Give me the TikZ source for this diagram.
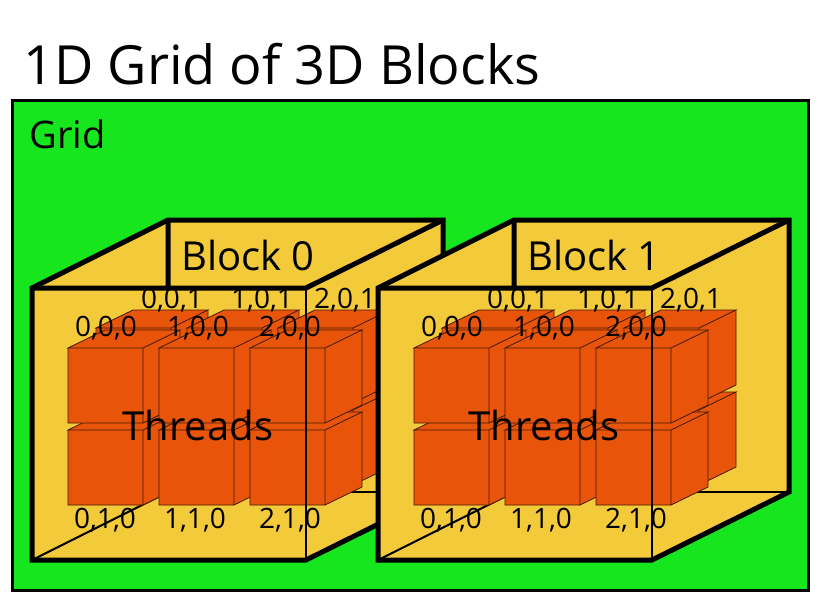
\documentclass[tikz,border=0pt]{standalone}
\usepackage{fontspec}
\setmainfont{Open Sans}
\definecolor{gridgreen}{HTML}{16E61E}
\definecolor{blockyellow}{HTML}{F3CA3A}
\definecolor{threadorange}{HTML}{E8540A}
\newcommand{\mycube}[2]{%
  \fill[threadorange,draw=black!70!threadorange,line width=0.8pt]
    (#1,#2) -- ++(75,0) -- ++(0,75) -- ++(-75,0) -- cycle
    (#1,#2) -- ++(37,-18) -- ++(75,0) -- ++(-37,18) -- cycle
    (#1+75,#2) -- ++(37,-18) -- ++(0,75) -- ++(-37,18) -- cycle;}
\newcommand{\myblock}[3]{%
  \begin{scope}[xshift=#1pt]
  \fill[blockyellow] (32,288) -- (168,220) -- (443,220) -- (443,492) -- (306,560) -- (32,560) -- cycle;
  \draw[line width=2pt] (168,492) -- (443,492);
  \draw[line width=2pt] (32,560) -- (168,492);
  \foreach \i in {0,1,2} {\foreach \j in {1,0} {\mycube{68+91*\i+28}{348+82*\j-20}}}
  \foreach \i in {0,1,2} {\foreach \j in {1,0} {\mycube{68+91*\i}{348+82*\j}}}
  \draw[line width=2pt] (306,288) -- (306,560);
  \draw[line width=5pt,line join=miter] (32,288) -- (168,220) -- (443,220) -- (443,492) -- (306,560) -- (32,560) -- cycle;
  \draw[line width=5pt] (32,288) -- (306,288) -- (443,220) (168,220) -- (168,288);
  \node[font=\fontsize{40}{44}\selectfont] (#2) at (248,255) {#3};
  \node[lab] (#2a) at (172,300) {0,0,1};
  \node[lab] (#2b) at (262,300) {1,0,1};
  \node[lab] (#2c) at (345,300) {2,0,1};
  \node[lab] (#2d) at (106,328) {0,0,0};
  \node[lab] (#2e) at (198,328) {1,0,0};
  \node[lab] (#2f) at (290,328) {2,0,0};
  \node[lab] (#2g) at (105,520) {0,1,0};
  \node[lab] (#2h) at (195,520) {1,1,0};
  \node[lab] (#2i) at (290,520) {2,1,0};
  \node[font=\fontsize{40}{44}\selectfont] (#2t) at (198,425) {Threads};
  \end{scope}}
\begin{document}
\begin{tikzpicture}[x=1pt,y=-1pt,lab/.style={font=\fontsize{28}{30}\selectfont,inner sep=0pt}]
\useasboundingbox (0,0) rectangle (820,606);
\fill[white] (0,0) rectangle (820,606);
\node[anchor=west,font=\fontsize{54}{58}\selectfont] (title) at (20,64) {1D Grid of 3D Blocks};
\draw[fill=gridgreen,line width=3pt] (12,100) rectangle (808,590);
\node[anchor=west,font=\fontsize{38}{42}\selectfont] (gridlabel) at (26,134) {Grid};
\myblock{0}{b0}{Block 0}
\myblock{346}{b1}{Block 1}
\end{tikzpicture}
\end{document}
